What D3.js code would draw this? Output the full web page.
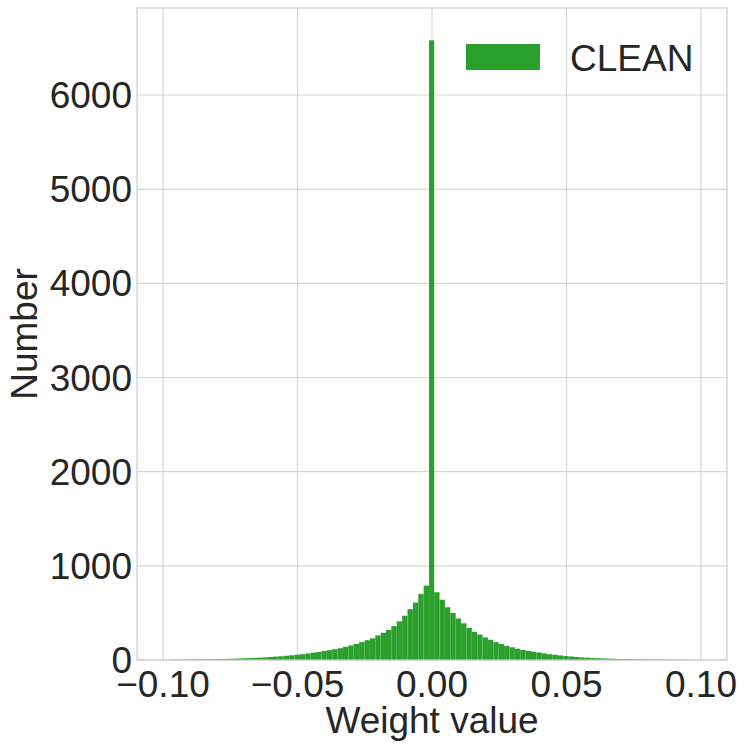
<!DOCTYPE html><html><head><meta charset="utf-8"><script src="https://cdn.jsdelivr.net/npm/d3@7"></script>
<style>body{margin:0;background:#fff}text{font-family:"Liberation Sans",Arial,sans-serif;fill:#262626}</style></head><body><svg width="747" height="748"></svg><script>
const binWidth=0.002;
const leftCounts=[3,4,4,5,6,7,8,9,10,11,12,14,16,18,20,22,25,28,32,36,40,45,50,56,62,70,78,86,95,105,115,125,140,155,170,190,210,230,260,290,320,360,410,470,540,610,700,790];
const spike={x0:-0.0011,x1:0.0008,count:6580};
const rightCounts=[720,640,560,500,440,390,340,300,270,240,215,190,170,150,135,120,108,97,88,80,70,62,55,48,42,37,32,28,25,22,19,17,15,13,11,10,9,8,7,6,5,5,4,4,3,3,2,2];
const xTicks=[-0.10,-0.05,0,0.05,0.10];
const yTicks=[0,1000,2000,3000,4000,5000,6000];
const bins=[];
leftCounts.forEach((c,i)=>{const x1=spike.x0-(leftCounts.length-1-i)*binWidth;bins.push({x0:x1-binWidth,x1,count:c});});
bins.push(spike);
rightCounts.forEach((c,i)=>{const x0=spike.x1+i*binWidth;bins.push({x0,x1:x0+binWidth,count:c});});
const svg=d3.select("svg");
const L=137,R=727,T=8,B=660;
const x=d3.scaleLinear().domain([-0.1,0.1]).range([163,701]);
const y=d3.scaleLinear().domain([0,6000]).range([B,95]);
const g=svg.append("g");
xTicks.forEach(t=>g.append("line").attr("x1",x(t)).attr("x2",x(t)).attr("y1",T).attr("y2",B).attr("stroke","#d6d6d6").attr("stroke-width",1.2));
yTicks.forEach(t=>g.append("line").attr("x1",L).attr("x2",R).attr("y1",y(t)).attr("y2",y(t)).attr("stroke","#d6d6d6").attr("stroke-width",1.2));
g.selectAll("rect.b").data(bins).join("rect").attr("x",d=>x(d.x0)).attr("width",d=>x(d.x1)-x(d.x0)).attr("y",d=>y(d.count)).attr("height",d=>B-y(d.count)).attr("fill","#2ca02c");
g.append("rect").attr("x",L).attr("y",T).attr("width",R-L).attr("height",B-T).attr("fill","none").attr("stroke","#cccccc").attr("stroke-width",1.2);
const fmt=t=>(t<0?"\u2212":"")+Math.abs(t).toFixed(2);
xTicks.forEach(t=>g.append("text").attr("x",x(t)).attr("y",697).attr("text-anchor","middle").attr("font-size",37).text(fmt(t)));
yTicks.forEach(t=>g.append("text").attr("x",132).attr("y",y(t)+13).attr("text-anchor","end").attr("font-size",37).text(t));
g.append("text").attr("x",432).attr("y",733).attr("text-anchor","middle").attr("font-size",37).text("Weight value");
g.append("text").attr("transform","translate(37,334) rotate(-90)").attr("text-anchor","middle").attr("font-size",37).text("Number");
g.append("rect").attr("x",466).attr("y",44).attr("width",74).attr("height",26).attr("fill","#2ca02c");
g.append("text").attr("x",570).attr("y",71).attr("font-size",37).text("CLEAN");
</script></body></html>
